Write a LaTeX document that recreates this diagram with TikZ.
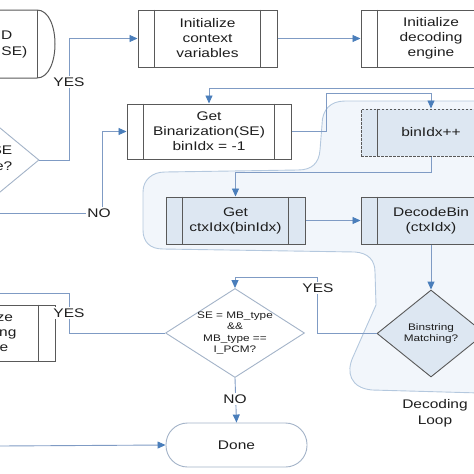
\documentclass[tikz,border=0pt]{standalone}
\usepackage{fontspec}
\setmainfont{Liberation Sans}[FakeStretch=1.24]
\usetikzlibrary{shapes.geometric,arrows.meta,calc}
\definecolor{clconn}{HTML}{7F9BC4}
\definecolor{cltip}{HTML}{4A7EBB}
\definecolor{clbox}{HTML}{595959}
\definecolor{clloopfill}{HTML}{F2F6FB}
\definecolor{clloopline}{HTML}{B4C8DE}
\definecolor{clinner}{HTML}{DDE7F2}
\definecolor{cldia}{HTML}{A3B3C8}
\definecolor{cltxt}{HTML}{1E1E1E}
\newcommand{\procbars}[2]{%
  \draw[barline] ($(#1.north west)+(#2,0)$) -- ($(#1.south west)+(#2,0)$);
  \draw[barline] ($(#1.north east)+(-#2,0)$) -- ($(#1.south east)+(-#2,0)$);}
\begin{document}
\begin{tikzpicture}[x=1pt,y=-1pt,
  txt/.style={text=cltxt, font=\fontsize{12.5}{15}\selectfont},
  proc/.style={txt, draw=clbox, line width=1pt, fill=white, rectangle, inner sep=0pt, align=center},
  inproc/.style={proc, fill=clinner},
  barline/.style={draw=clbox, line width=1pt},
  cn/.style={draw=clconn, line width=0.9pt, -{Triangle[length=8pt,width=7pt,color=cltip]}},
  lbl/.style={txt, fill=white, inner sep=1.5pt},
  dtext/.style={text=cltxt, font=\fontsize{9.5}{11.5}\selectfont, align=center, inner sep=0pt},
  tl/.style={txt, inner sep=0pt, anchor=east}]
\useasboundingbox (0,0) rectangle (474,474);
\clip (0,0) rectangle (474,474);

% decoding loop region
\path[fill=clloopfill, draw=clloopline, line width=0.9pt]
  (480,101) -- (345,101) .. controls (330,101) and (322,110) .. (322,125)
  -- (320,150) .. controls (319,163) and (312,170) .. (298,170)
  -- (165,172) .. controls (152,172) and (143,180) .. (143,192)
  -- (143,230) .. controls (143,242) and (150,249) .. (163,249)
  -- (355,252) .. controls (368,253) and (375,260) .. (375,272)
  -- (376,305) -- (353,357) .. controls (346,372) and (350,388) .. (372,390)
  -- (480,393) -- cycle;

% top-left start shape
\draw[barline, fill=white] (-5,10) -- (37,10) .. controls (61,10) and (61,78) .. (37,78) -- (-5,78);
\draw[barline] (37,10) -- (37,78);
\node[tl] (tlA) at (12.5,35) {D};
\node[tl] (tlB) at (27.5,52) {SE)};

% left decision
\node[diamond, draw=cldia, line width=0.9pt, fill=white, minimum width=138, minimum height=114, inner sep=0pt] (ld) at (-30,160) {};
\node[tl] (ldA) at (12.5,150) {SE};
\node[tl] (ldB) at (12.5,166) {e?};

% process boxes
\node[proc, minimum width=139, minimum height=57] (ctxinit) at (207.5,38.5) {Initialize\\context\\variables};
\procbars{ctxinit}{17}
\node[proc, minimum width=140, minimum height=57] (enginit) at (431,38.5) {Initialize\\decoding\\engine};
\procbars{enginit}{17}
\node[proc, minimum width=164, minimum height=55] (getbin) at (209,131.5) {Get\\Binarization(SE)\\binIdx = -1};
\procbars{getbin}{17}
\node[inproc, dash pattern=on 2.5pt off 1.5pt, minimum width=140, minimum height=47] (binidx) at (431,132.5) {binIdx++};
\draw[barline] ($(binidx.north west)+(17,0)$) -- ($(binidx.south west)+(17,0)$);
\node[inproc, minimum width=139, minimum height=47] (getctx) at (235.5,220.5) {Get\\ctxIdx(binIdx)};
\procbars{getctx}{17}
\node[inproc, minimum width=140, minimum height=47] (decbin) at (431,220.5) {DecodeBin\\(ctxIdx)};
\procbars{decbin}{17}
\node[proc, minimum width=140, minimum height=56] (leftbox) at (-15,333) {Initialize\\decoding\\engine};
\procbars{leftbox}{17}

% decisions
\node[diamond, draw=clbox, line width=0.9pt, fill=clinner, minimum width=108, minimum height=87, inner sep=0pt] (bs) at (431,333.5) {};
\node[dtext] (bstext) at (431,333.5) {Binstring\\Matching?};
\node[diamond, draw=cldia, line width=0.9pt, fill=white, minimum width=139, minimum height=89, inner sep=0pt] (se) at (235,333) {};
\node[dtext] (setext) at (235,333) {SE = MB\_type\\\&\&\\MB\_type ==\\I\_PCM?};

% terminal
\node[txt, draw=cldia, line width=0.9pt, fill=white, rounded corners=21.5pt, minimum width=141, minimum height=44, inner sep=0pt] (done) at (236.5,445) {Done};

% connectors
\draw[cn] (ld.east) -- ++(30,0) |- (ctxinit.west);
\draw[cn] (ctxinit.east) -- (enginit.west);
\coordinate (noStart) at (0,213);
\draw[cn] (noStart) -- ++(102,0) |- (getbin.west);
\coordinate (rEdge) at (474,88);
\draw[cn] (rEdge) -| (getbin.north);
\draw[cn] (getbin.east) -- ++(35,0) |- ($(binidx.north)+(0,-15)$) -- (binidx.north);
\draw[cn] (binidx.south) -- ++(0,16) -| (getctx.north);
\draw[cn] (getctx.east) -- (decbin.west);
\draw[cn] (decbin.south) -- (bs.north);
\draw[cn] (bs.west) -- ++(-59,0) |- ($(se.north)+(0,-11)$) -- (se.north);
\draw[cn] (se.west) -- ++(-96,0) |- ($(leftbox.north)+(0,-11)$) -- (leftbox.north);
\draw[cn] (se.south) -- (done.north);
\coordinate (dStart) at (0,446);
\draw[cn] (dStart) -- (done.west);

% labels
\node[lbl] (yesA) at (69,82) {YES};
\node[lbl] (noA) at (99,213) {NO};
\node[lbl] (yesB) at (318,288) {YES};
\node[lbl] (yesC) at (69,313) {YES};
\node[lbl] (noB) at (235,399) {NO};
\node[txt, align=center, font=\fontsize{12.5}{16}\selectfont, inner sep=0pt] (looplbl) at (435,413) {Decoding\\Loop};
\end{tikzpicture}
\end{document}
